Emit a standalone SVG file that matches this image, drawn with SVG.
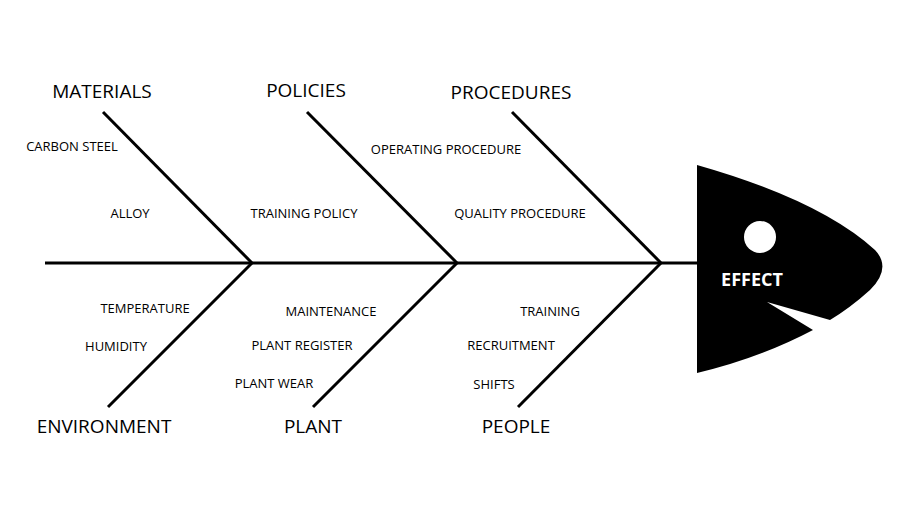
<svg xmlns="http://www.w3.org/2000/svg" width="905" height="509" viewBox="0 0 905 509">
<style>
.b{stroke:#000;stroke-width:3;fill:none}
.c{font-family:"Open Sans","Liberation Sans",sans-serif;font-size:19px;fill:#000}
.s{font-family:"Open Sans","Liberation Sans",sans-serif;font-size:13px;fill:#000}
</style>
<rect width="905" height="509" fill="#fff"/>
<g id="connectors">
<line class="b" x1="45" y1="263" x2="700" y2="263"/>
<line class="b" x1="103" y1="112" x2="252" y2="263"/>
<line class="b" x1="307" y1="112" x2="457" y2="263"/>
<line class="b" x1="512" y1="112" x2="661" y2="263"/>
<line class="b" x1="108" y1="407" x2="252" y2="263"/>
<line class="b" x1="313" y1="407" x2="457" y2="263"/>
<line class="b" x1="518" y1="407" x2="661" y2="263"/>
</g>
<g id="effect">
<path d="M697,165 Q820,200 875,250 Q892,268 870,290 Q850,308 830,320 L767,302 L813,330 Q760,358 697,373 Z" fill="#000"/>
<circle cx="760" cy="237" r="16" fill="#fff"/>
<text x="752" y="286" text-anchor="middle" font-family="Open Sans,Liberation Sans,sans-serif" font-weight="bold" font-size="18" fill="#fff">EFFECT</text>
</g>
<g id="materials"><text class="c" x="102" y="98" text-anchor="middle">MATERIALS</text>
<text class="s" x="72" y="151" text-anchor="middle">CARBON STEEL</text>
<text class="s" x="130" y="218" text-anchor="middle">ALLOY</text></g>
<g id="policies"><text class="c" x="306" y="97" text-anchor="middle">POLICIES</text>
<text class="s" x="304" y="218" text-anchor="middle">TRAINING POLICY</text></g>
<g id="procedures"><text class="c" x="511" y="99" text-anchor="middle">PROCEDURES</text>
<text class="s" x="446" y="154" text-anchor="middle">OPERATING PROCEDURE</text>
<text class="s" x="520" y="218" text-anchor="middle">QUALITY PROCEDURE</text></g>
<g id="environment"><text class="c" x="104" y="433" text-anchor="middle">ENVIRONMENT</text>
<text class="s" x="145" y="313" text-anchor="middle">TEMPERATURE</text>
<text class="s" x="116" y="351" text-anchor="middle">HUMIDITY</text></g>
<g id="plant"><text class="c" x="313" y="433" text-anchor="middle">PLANT</text>
<text class="s" x="331" y="316" text-anchor="middle">MAINTENANCE</text>
<text class="s" x="302" y="350" text-anchor="middle">PLANT REGISTER</text>
<text class="s" x="274" y="388" text-anchor="middle">PLANT WEAR</text></g>
<g id="people"><text class="c" x="516" y="433" text-anchor="middle">PEOPLE</text>
<text class="s" x="550" y="316" text-anchor="middle">TRAINING</text>
<text class="s" x="511" y="350" text-anchor="middle">RECRUITMENT</text>
<text class="s" x="494" y="389" text-anchor="middle">SHIFTS</text></g>
</svg>
